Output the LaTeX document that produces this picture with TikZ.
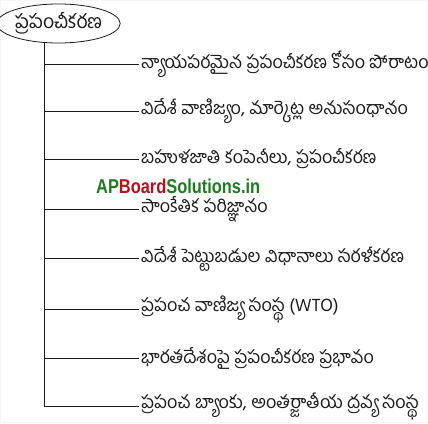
\documentclass[tikz,border=0pt]{standalone}
\usepackage{fontspec}
\newfontfamily\telfont[Script=Telugu]{Hind Guntur}
\newfontfamily\wmfont{Liberation Sans}
\usetikzlibrary{shapes.geometric}
\definecolor{wmgreen}{HTML}{1E7B22}
\definecolor{wmred}{HTML}{B3121E}
\definecolor{ink}{HTML}{1A1A1A}
\definecolor{edge}{HTML}{F6F6F6}
\begin{document}
\begin{tikzpicture}[x=1pt,y=1pt,
  rootbox/.style={draw=ink,ellipse,line width=0.8pt,minimum width=113pt,minimum height=39pt,inner sep=0pt,text=ink,font=\telfont\fontsize{19.5}{21}\selectfont},
  item/.style={anchor=west,inner sep=2pt,text=ink,font=\telfont\fontsize{18}{20}\selectfont},
  link/.style={draw=ink,line width=0.8pt}]
\useasboundingbox (0,0) rectangle (428,-423);
\draw[edge,line width=0.5pt] (0.5,-0.5) rectangle (427.5,-422.5);
\node[rootbox] (root) at (58.5,-23.5) {ప్రపంచీకరణ};
\coordinate (top) at (root.234.5);
\node[item] (i1) at (139,-64) {న్యాయపరమైన ప్రపంచీకరణ కోసం పోరాటం};
\node[item] (i2) at (139,-111.5) {విదేశీ వాణిజ్యం, మార్కెట్ల అనుసంధానం};
\node[item] (i3) at (139,-159) {బహుళజాతి కంపెనీలు, ప్రపంచీకరణ};
\node[item] (i4) at (139,-209) {సాంకేతిక పరిజ్ఞానం};
\node[item] (i5) at (139,-258.5) {విదేశీ పెట్టుబడుల విధానాలు సరళీకరణ};
\node[item] (i6) at (139,-309) {ప్రపంచ వాణిజ్య సంస్థ (WTO)};
\node[item] (i7) at (139,-358) {భారతదేశంపై ప్రపంచీకరణ ప్రభావం};
\node[item] (i8) at (139,-406) {ప్రపంచ బ్యాంకు, అంతర్జాతీయ ద్రవ్య సంస్థ};
\node[font=\wmfont\bfseries\fontsize{20}{22}\selectfont,anchor=base west,inner sep=0pt,xscale=0.82] (wm) at (96,-193)
  {\textcolor{wmgreen}{AP}\textcolor{wmred}{Board}\textcolor{wmgreen}{Solutions.in}};
\draw[link] (top) |- (i8.west);
\foreach \n in {i1,i2,i3,i4,i5,i6,i7}{\draw[link] (top |- \n.west) -- (\n.west);}
\end{tikzpicture}
\end{document}
